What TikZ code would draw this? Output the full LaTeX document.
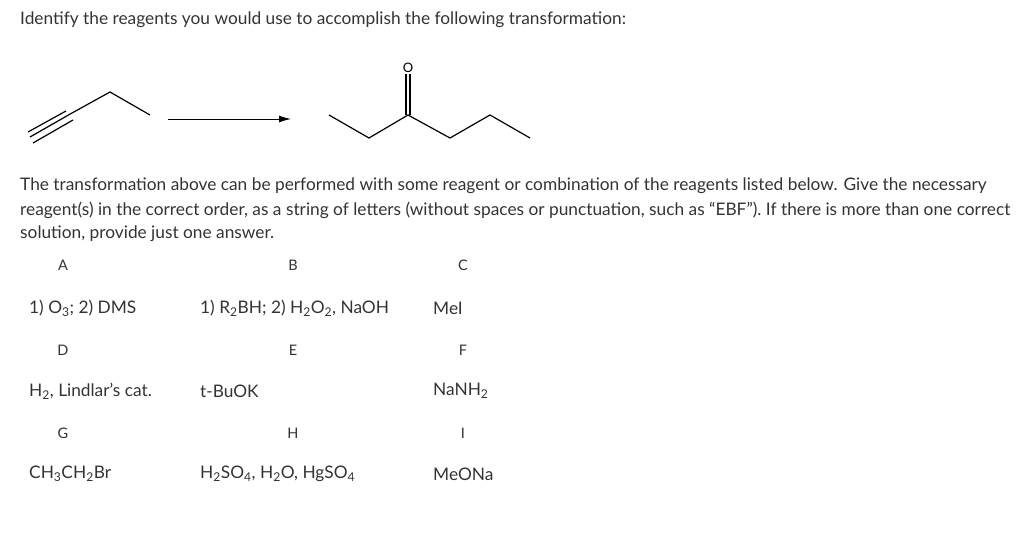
\documentclass[tikz,border=0pt]{standalone}
\usepackage{fontspec}
\setmainfont{Lato}
\usetikzlibrary{arrows.meta}
\newcommand{\sbs}[1]{\textsubscript{#1}}
\begin{document}
\begin{tikzpicture}[x=1pt,y=-1pt,
  txt/.style={anchor=west,inner sep=0pt,font=\fontsize{17.3}{20}\selectfont,text=black!80},
  hd/.style={inner sep=0pt,font=\fontsize{14.5}{17}\selectfont,text=black!80},
  bond/.style={line width=1.2pt,line join=round}]
\useasboundingbox (0,0) rectangle (1030,541);
\node[txt] (t1) at (20,20) {Identify the reagents you would use to accomplish the following transformation:};
% alkyne
\coordinate (a1) at (30,137); \coordinate (a2) at (72,113);
\coordinate (a3) at (110,92); \coordinate (a4) at (150,115);
\draw[bond] (a1) -- (a2) -- (a3) -- (a4);
\draw[bond] ([shift={(-2,-5)}]a1) -- ([shift={(-6,-2)}]a2);
\draw[bond] ([shift={(3,6)}]a1) -- ([shift={(1,7)}]a2);
% arrow
\coordinate (r1) at (168,119); \coordinate (r2) at (291,119);
\draw[line width=1pt,-{Latex[length=12pt,width=7pt]}] (r1) -- (r2);
% ketone
\coordinate (k1) at (329,115); \coordinate (k2) at (369,138); \coordinate (k3) at (408,115);
\coordinate (k4) at (450,138); \coordinate (k5) at (490,115); \coordinate (k6) at (530,138);
\draw[bond] (k1) -- (k2) -- (k3) -- (k4) -- (k5) -- (k6);
\node[inner sep=1pt,font=\fontsize{13}{15}\selectfont] (ox) at (408,68) {O};
\draw[bond] ([xshift=-2pt]k3) -- ([xshift=-2pt]ox.south);
\draw[bond] ([xshift=2pt]k3) -- ([xshift=2pt]ox.south);
% paragraph
\node[txt] (p1) at (20,186) {The transformation above can be performed with some reagent or combination of the reagents listed below. Give the necessary};
\node[txt] (p2) at (20,210) {reagent(s) in the correct order, as a string of letters (without spaces or punctuation, such as ``EBF''). If there is more than one correct};
\node[txt] (p3) at (20,234) {solution, provide just one answer.};
% table
\node[hd] (hA) at (63,265) {A}; \node[hd] (hB) at (293,265) {B}; \node[hd] (hC) at (463,265) {C};
\node[txt] (cA) at (29,308) {1) O\sbs{3}; 2) DMS};
\node[txt] (cB) at (200,308) {1) R\sbs{2}BH; 2) H\sbs{2}O\sbs{2}, NaOH};
\node[txt] (cC) at (433,308) {MeI};
\node[hd] (hD) at (63,350) {D}; \node[hd] (hE) at (293,350) {E}; \node[hd] (hF) at (463,350) {F};
\node[txt] (cD) at (29,391) {H\sbs{2}, Lindlar's cat.};
\node[txt] (cE) at (200,391) {t-BuOK};
\node[txt] (cF) at (433,391) {NaNH\sbs{2}};
\node[hd] (hG) at (63,433) {G}; \node[hd] (hH) at (293,433) {H}; \node[hd] (hI) at (463,433) {I};
\node[txt] (cG) at (29,474) {CH\sbs{3}CH\sbs{2}Br};
\node[txt] (cH) at (200,474) {H\sbs{2}SO\sbs{4}, H\sbs{2}O, HgSO\sbs{4}};
\node[txt] (cI) at (433,474) {MeONa};
\end{tikzpicture}
\end{document}
